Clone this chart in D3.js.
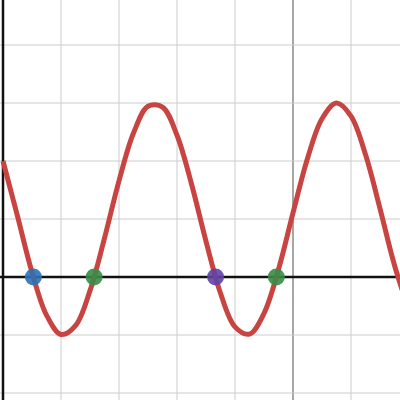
<!DOCTYPE html>
<html><head><meta charset="utf-8">
<script src="https://cdn.jsdelivr.net/npm/d3@7"></script>
<style>body{margin:0;background:#fff}</style></head>
<body><svg id="c" width="400" height="400"></svg>
<script>
const curveX = [0,0.25,0.5,0.75,1,1.25,1.5,1.75,2,2.25,2.5,2.75,3,3.25,3.5,3.75,4,4.25,4.5,4.75,5,5.25,5.5,5.75,6,6.25,6.5,6.75,7];
const curveY = [2.0,1.048,0.082,-0.657,-0.991,-0.838,-0.234,0.671,1.658,2.482,2.944,2.930,2.444,1.604,0.616,-0.280,-0.860,-0.985,-0.626,0.132,1.104,2.044,2.728,2.999,2.773,2.112,1.180,0.202,-0.576];
const pointX = [0.524,1.571,3.665,4.712];
const pointY = [0,0,0,0];
const pointColors = ["#2d70b3","#388c46","#6042a6","#388c46"];

const svg = d3.select("#c");
const x = d3.scaleLinear().domain([-3/58, 397/58]).range([0,400]);
const y = d3.scaleLinear().domain([-123/58, 277/58]).range([400,0]);
const g = svg.append("g");
d3.range(0,7).forEach(v=>{
  g.append("line").attr("x1",x(v)).attr("x2",x(v)).attr("y1",0).attr("y2",400)
   .attr("stroke", v===5?"#888":"#ccc").attr("stroke-width", v===5?1.5:1);
});
d3.range(-2,5).forEach(v=>{
  g.append("line").attr("y1",y(v)).attr("y2",y(v)).attr("x1",0).attr("x2",400)
   .attr("stroke","#ccc").attr("stroke-width",1);
});
g.append("line").attr("x1",x(0)).attr("x2",x(0)).attr("y1",0).attr("y2",400).attr("stroke","#111").attr("stroke-width",2.5);
g.append("line").attr("y1",y(0)).attr("y2",y(0)).attr("x1",0).attr("x2",400).attr("stroke","#111").attr("stroke-width",2.5);

const line = d3.line().x((d,i)=>x(curveX[i])).y((d,i)=>y(curveY[i])).curve(d3.curveCatmullRom);
svg.append("path").attr("d", line(curveX)).attr("fill","none").attr("stroke","#c74440").attr("stroke-width",5);
svg.selectAll("circle").data(pointX).enter().append("circle")
  .attr("cx",d=>x(d)).attr("cy",(d,i)=>y(pointY[i])).attr("r",8.5)
  .attr("fill",(d,i)=>pointColors[i]).attr("opacity",0.9);
</script></body></html>
